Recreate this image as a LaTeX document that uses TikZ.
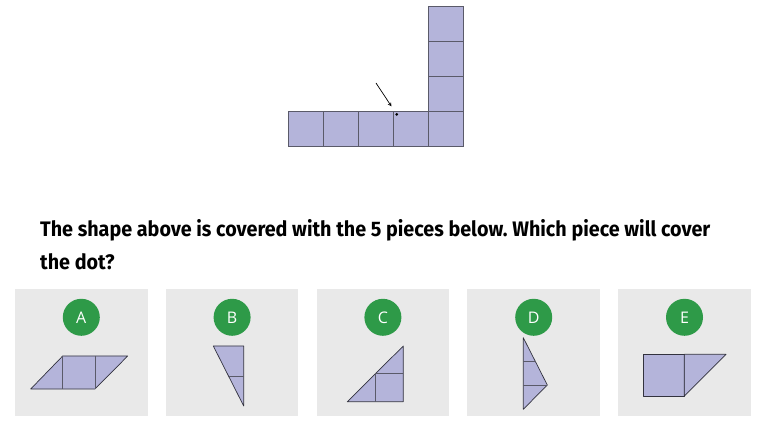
\documentclass[tikz,border=0pt]{standalone}
\usepackage{fontspec}
\setmainfont{Fira Sans}
\newfontfamily\qfont[FakeStretch=0.94]{Fira Sans}
\newfontfamily\badgefont{Open Sans}
\usepackage{tikz}
\usetikzlibrary{calc, positioning, arrows}
\frenchspacing
\definecolor{tilefill}{RGB}{180,180,218}
\definecolor{tileline}{RGB}{90,90,105}
\definecolor{pieceline}{RGB}{50,50,62}
\definecolor{panelgray}{RGB}{233,233,233}
\definecolor{badgegreen}{RGB}{46,154,72}
\tikzset{
  tile/.style={fill=tilefill, draw=tileline, line width=0.9pt},
  piece/.style={fill=tilefill, draw=pieceline, line width=0.7pt, line join=round},
  divider/.style={draw=tileline, line width=0.8pt},
  panel/.style={fill=panelgray},
  badge/.style={circle, fill=badgegreen, minimum size=37pt, inner sep=0pt, text=white, font=\badgefont\fontsize{16}{16}\selectfont},
  question/.style={anchor=base west, inner sep=0pt, font=\qfont\bfseries\fontsize{21}{25}\selectfont}
}

\begin{document}
\begin{tikzpicture}[x=1pt, y=-1pt]
	\useasboundingbox (0,0) rectangle (766,430);
	% the L shape
	\foreach \i in {0,...,4}
		\draw[tile] ({288+35*\i},111) rectangle +(35,35);
	\foreach \j in {0,1,2}
		\draw[tile] (428,{6+35*\j}) rectangle +(35,35);
	\node[circle, fill=black, inner sep=0pt, minimum size=3pt] (dot) at (396.7,114.3) {};
	\coordinate (tail) at (376,83);
	\draw[-stealth, line width=0.7pt, shorten >=7.8pt] (tail) -- (dot);

	% question
	\node[question] (line1) at (40,236.7) {The shape above is covered with the 5 pieces below. Which piece will cover};
	\node[question] (line2) at (40,270) {the dot?};

	% panels
	\foreach \l [count=\k from 0] in {A,B,C,D,E} {
		\fill[panel] ({15+150.8*\k},289) rectangle +(132.5,127);
		\node[badge] (badge\l) at ({81.3+150.8*\k},317.3) {\l};
	}

	% piece A
	\draw[piece] (30.7,389) -- (62.7,356) -- (127.7,356) -- (95,389) -- cycle;
	\draw[divider] (62.7,356) -- (62.7,389) (95,356) -- (95,389);
	% piece B
	\draw[piece] (213.3,346) -- (243.7,346) -- (243.7,406) -- cycle;
	\draw[divider] (228.5,376) -- (243.7,376);
	% piece C
	\draw[piece] (347.3,401.7) -- (403.3,346) -- (403.3,401.7) -- cycle;
	\draw[divider] (375.3,401.7) -- (375.3,373.7) -- (403.3,373.7);
	% piece D
	\draw[piece] (523.3,337.7) -- (547.3,385) -- (523.3,409.3) -- cycle;
	\draw[divider] (523.3,361.7) -- (535.5,361.7) (523.3,385) -- (547.3,385);
	% piece E
	\draw[piece] (643.3,354.3) rectangle (684.3,396);
	\draw[piece] (684.3,354.3) -- (726,354.3) -- (684.3,396) -- cycle;
\end{tikzpicture}
\end{document}
